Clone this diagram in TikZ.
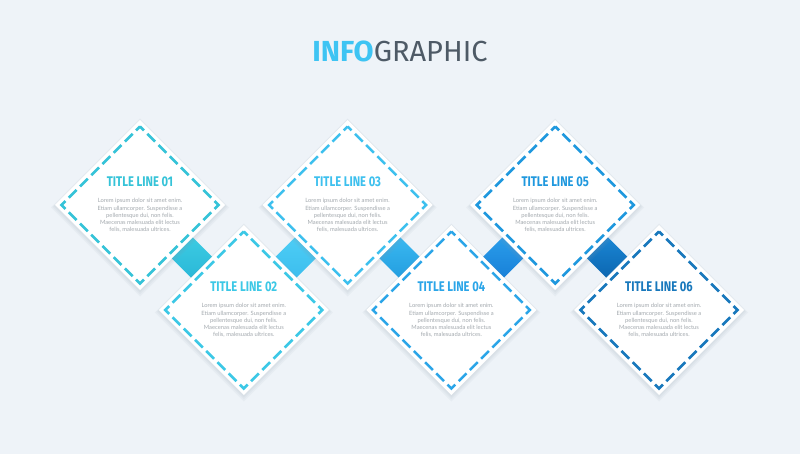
\documentclass[tikz,border=0pt]{standalone}
\usepackage{fontspec}
\setmainfont{Fira Sans}
\newfontfamily\condfont[FakeStretch=0.8]{Fira Sans}
\newfontfamily\bodyfont{Lato}
\usetikzlibrary{shapes.geometric}
\definecolor{bg}{HTML}{EEF3F8}
\definecolor{infoc}{HTML}{3EC4F3}
\definecolor{graphc}{HTML}{4E5A66}
\definecolor{bodyc}{HTML}{A3A9AE}
\definecolor{shc}{HTML}{8A99A8}
\definecolor{c1}{HTML}{35C3D8}
\definecolor{c2}{HTML}{3CC8E6}
\definecolor{c3}{HTML}{3DC0EE}
\definecolor{c4}{HTML}{2BA5E8}
\definecolor{c5}{HTML}{1F98DE}
\definecolor{c6}{HTML}{1878BC}
\definecolor{s1t}{HTML}{3CCBE2}\definecolor{s1b}{HTML}{2AB8D8}
\definecolor{s2t}{HTML}{4DCDF5}\definecolor{s2b}{HTML}{3CBEEE}
\definecolor{s3t}{HTML}{3AB8F0}\definecolor{s3b}{HTML}{239EE0}
\definecolor{s4t}{HTML}{2A9DEA}\definecolor{s4b}{HTML}{1880D8}
\definecolor{s5t}{HTML}{1A86D4}\definecolor{s5b}{HTML}{0C66B0}
\tikzset{
  card/.style={diamond, aspect=1, minimum width=170pt, minimum height=170pt, inner sep=0pt, outer sep=0pt, fill=white},
  shadowd/.style={fill=shc, fill opacity=0.07},
  dashline/.style={line width=2.6pt, line join=miter, dash pattern=on 11pt off 4.86pt, dash phase=5.5pt},
  sq/.style={diamond, aspect=1, minimum width=42pt, minimum height=42pt, inner sep=0pt},
  ttl/.style={font=\condfont\bfseries\fontsize{14}{14}\selectfont, anchor=center},
  bodytxt/.style={font=\bodyfont\fontsize{5.8}{7.2}\selectfont, text=bodyc, align=center, anchor=center},
}
\begin{document}
\begin{tikzpicture}[x=1pt,y=-1pt]
\path[fill=bg] (0,0) rectangle (800,454);
\useasboundingbox (0,0) rectangle (800,454);
% header
\node[anchor=base, inner sep=0pt] (hdr) at (400,62) {\fontsize{29}{29}\selectfont{\bfseries\color{infoc}INFO}{\color{graphc}GRAPHIC}};
% connector squares
\foreach \i/\x in {1/191.9, 2/295.7, 3/399.5, 4/503.3, 5/607.1} {
  \node[sq, top color=s\i t, bottom color=s\i b] (q\i) at (\x,257.5) {};
}
% cards
\foreach \i/\x/\y in {1/140/205, 2/243.8/310, 3/347.6/205, 4/451.4/310, 5/555.2/205, 6/659/310} {
  \foreach \r/\dy in {89/2.5, 87.5/1.8, 86.2/1.2} {
    \fill[shadowd] (\x,\y-\r+\dy) -- (\x+\r,\y+\dy) -- (\x,\y+\r+\dy) -- (\x-\r,\y+\dy) -- cycle;
  }
  \node[card] (d\i) at (\x,\y) {};
  \draw[dashline, draw=c\i] (\x,\y-78.5) -- (\x+78.5,\y) -- (\x,\y+78.5) -- (\x-78.5,\y) -- cycle;
  \node[ttl, text=c\i] (t\i) at (\x,\y-23) {TITLE LINE 0\i};
  \node[bodytxt] (b\i) at (\x,\y+10.5) {Lorem ipsum dolor sit amet enim.\\Etiam ullamcorper. Suspendisse a\\pellentesque dui, non felis.\\Maecenas malesuada elit lectus\\felis, malesuada ultrices.};
}
\end{tikzpicture}
\end{document}
